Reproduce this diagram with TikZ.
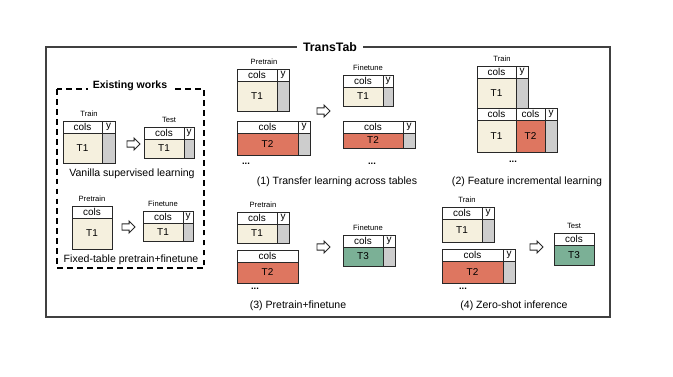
\documentclass[tikz,border=0pt]{standalone}
\usepackage{fontspec}
\setmainfont{Liberation Sans}
\usetikzlibrary{positioning,shapes.arrows,calc}
\definecolor{cT1}{RGB}{245,240,222}
\definecolor{cT2}{RGB}{222,118,96}
\definecolor{cT3}{RGB}{123,176,150}
\definecolor{cY}{RGB}{205,205,205}
\definecolor{cLine}{RGB}{40,40,40}

\tikzset{
  cell/.style={draw=cLine, line width=0.8pt, inner sep=0pt, outer sep=0pt, font=\fontsize{8.5}{9}\selectfont},
  hd/.style={cell, fill=white, minimum height=12*0.03cm},
  lbl/.style={font=\fontsize{6.5}{7}\selectfont, inner sep=0pt},
  captxt/.style={font=\fontsize{9}{10}\selectfont, inner sep=0pt},
  dotstxt/.style={font=\fontsize{8}{9}\selectfont\bfseries, inner sep=0pt},
  harrow/.style={single arrow, draw=cLine, fill=white, line width=0.8pt, inner sep=2.2pt,
    minimum height=13*0.03cm, single arrow head extend=2.5pt},
}

% table: name, x, y, width, body height, colour, text
\newcommand{\tabcols}[7]{%
  \node[hd, minimum width=#4*0.03cm, anchor=north west] (#1h) at (#2,#3) {cols};
  \node[cell, fill=#6, minimum width=#4*0.03cm, minimum height=#5*0.03cm, anchor=north west] (#1b) at (#1h.south west) {#7};
}
% label column: name, width, body height
\newcommand{\tabycol}[3]{%
  \node[hd, minimum width=#2*0.03cm, anchor=north west] (#1yh) at (#1h.north east) {y};
  \node[cell, fill=cY, minimum width=#2*0.03cm, minimum height=#3*0.03cm, anchor=north west] (#1yb) at (#1yh.south west) {};
}

\begin{document}
\begin{tikzpicture}[x=0.03cm, y=-0.03cm]
    \useasboundingbox (0,0) rectangle (673,377);

    % frames
    \draw[line width=0.9pt, draw=black!75] (46,47) rectangle (610,317);
    \node[fill=white, inner xsep=5pt, font=\fontsize{10.5}{12}\selectfont\bfseries] (title) at (330,47) {TransTab};
    \draw[line width=0.9pt, dash pattern=on 5pt off 3.5pt] (57,89) rectangle (204,268);
    \node[fill=white, inner xsep=4pt, font=\fontsize{9}{10}\selectfont\bfseries] (exist) at (130,86) {Existing works};

    % existing works
    \tabcols{va}{63}{121}{39}{30}{cT1}{T1} \tabycol{va}{13}{30}
    \tabcols{vb}{144}{127}{40}{19}{cT1}{T1} \tabycol{vb}{10}{19}
    \node[lbl] (vaL) at (89,114) {Train};
    \node[lbl] (vbL) at (169,120) {Test};
    \node[harrow] (vArr) at (132,144) {};
    \node[captxt] (vCap) at (132,174) {Vanilla supervised learning};

    \tabcols{fa}{72}{206}{40}{31}{cT1}{T1}
    \tabcols{fb}{143}{211}{40}{18}{cT1}{T1} \tabycol{fb}{10}{18}
    \node[lbl] (faL) at (92,199) {Pretrain};
    \node[lbl] (fbL) at (163,204) {Finetune};
    \node[harrow] (fArr) at (127,227) {};
    \node[captxt] (fCap) at (131,260) {Fixed-table pretrain+finetune};

    % (1) transfer learning
    \tabcols{ta}{237}{69}{40}{30}{cT1}{T1} \tabycol{ta}{12}{30}
    \tabcols{tb}{237}{121}{61}{22}{cT2}{T2} \tabycol{tb}{12}{22}
    \tabcols{tc}{343}{75}{40}{19}{cT1}{T1} \tabycol{tc}{10}{19}
    \tabcols{td}{343}{121}{60}{15}{cT2}{T2} \tabycol{td}{12}{15}
    \node[lbl] (taL) at (264,62) {Pretrain};
    \node[lbl] (tcL) at (368,68) {Finetune};
    \node[harrow] (tArr) at (322,111) {};
    \node[dotstxt] (tbD) at (246,164) {...};
    \node[dotstxt] (tdD) at (372,164) {...};
    \node[captxt] (tCap) at (337,182) {(1) Transfer learning across tables};

    % (2) feature incremental
    \tabcols{ia}{477}{66}{39}{30}{cT1}{T1} \tabycol{ia}{12}{30}
    \tabcols{ib}{477}{108}{39}{32}{cT1}{T1}
    \node[hd, minimum width=29*0.03cm, anchor=north west] (ich) at (ibh.north east) {cols};
    \node[cell, fill=cT2, minimum width=29*0.03cm, minimum height=32*0.03cm, anchor=north west] (icb) at (ich.south west) {T2};
    \tabycol{ic}{12}{32}
    \node[lbl] (iaL) at (502,59) {Train};
    \node[dotstxt] (iD) at (513,162) {...};
    \node[captxt] (iCap) at (527,182) {(2) Feature incremental learning};

    % (3) pretrain+finetune
    \tabcols{pa}{237}{212}{40}{19}{cT1}{T1} \tabycol{pa}{12}{19}
    \tabcols{pb}{237}{250}{61}{21}{cT2}{T2}
    \tabcols{pc}{343}{235}{40}{19}{cT3}{T3} \tabycol{pc}{12}{19}
    \node[lbl] (paL) at (263,205) {Pretrain};
    \node[lbl] (pcL) at (368,228) {Finetune};
    \node[harrow] (pArr) at (322,247) {};
    \node[dotstxt] (pD) at (255,289) {...};
    \node[captxt] (pCap) at (298,306) {(3) Pretrain+finetune};

    % (4) zero-shot
    \tabcols{za}{442}{207}{40}{23}{cT1}{T1} \tabycol{za}{12}{23}
    \tabcols{zb}{442}{249}{61}{22}{cT2}{T2} \tabycol{zb}{12}{22}
    \tabcols{zc}{554}{233}{40}{20}{cT3}{T3}
    \node[lbl] (zaL) at (467,200) {Train};
    \node[lbl] (zcL) at (574,226) {Test};
    \node[harrow] (zArr) at (535,247) {};
    \node[dotstxt] (zD) at (463,289) {...};
    \node[captxt] (zCap) at (514,306) {(4) Zero-shot inference};
\end{tikzpicture}
\end{document}
